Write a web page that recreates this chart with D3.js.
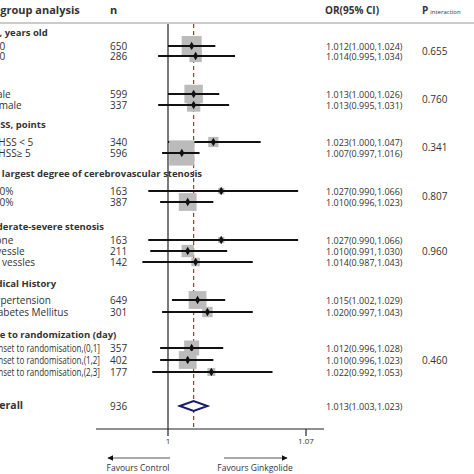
<!DOCTYPE html>
<html><head><meta charset="utf-8">
<script src="https://cdn.jsdelivr.net/npm/d3@7"></script>
<style>body{margin:0;background:#fff}svg{font-family:"Open Sans",sans-serif}</style>
</head><body><svg id="c" width="474" height="474"></svg>
<script>
const groups = ["Age, years old","Sex","NIHSS, points","The largest degree of cerebrovascular stenosis","Moderate-severe stenosis","Medical History","Time to randomization (day)"];
const groupY = [33,null,125,174,227,284,335];
const labels = ["≥60","<60","Male","Female","NIHSS < 5","NIHSS≥ 5","≥50%","<50%","None","1 vessle","≥2 vessles","Hypertension","Diabetes Mellitus","Onset to randomisation,(0,1]","Onset to randomisation,(1,2]","Onset to randomisation,(2,3]"];
const rowY = [46,56,94,105,142,153,191,202,240,251,262,300,312,348,360,372];
const ns = [650,286,599,337,340,596,163,387,163,211,142,649,301,357,402,177];
const or = [1.012,1.014,1.013,1.013,1.023,1.007,1.027,1.010,1.027,1.010,1.014,1.015,1.020,1.012,1.010,1.022];
const lo = [1.000,0.995,1.000,0.995,1.000,0.997,0.990,0.996,0.990,0.991,0.987,1.002,0.997,0.996,0.996,0.992];
const hi = [1.024,1.034,1.026,1.031,1.047,1.016,1.066,1.023,1.066,1.030,1.043,1.029,1.043,1.028,1.023,1.053];
const pvals = ["0.655","0.760","0.341","0.807","0.960","","0.460"];
const pY = [51,99,147,196,251,null,360];
const overall = {n:936, or:1.013, lo:1.003, hi:1.023, y:406};
const ticks = [1,1.07];

const svg = d3.select("#c");
const x = d3.scaleLinear().domain([1,1.07]).range([168,306]);
const txt = "#333";
svg.append("line").attr("x1",0).attr("x2",474).attr("y1",23).attr("y2",23).attr("stroke","#bbb").attr("stroke-width",1.5);
svg.append("text").attr("x",-20).attr("y",14).attr("font-size",11).attr("font-weight","bold").attr("fill",txt).text("Subgroup analysis");
svg.append("text").attr("x",110).attr("y",14).attr("font-size",11).attr("font-weight","bold").attr("fill",txt).text("n");
svg.append("text").attr("x",325).attr("y",14).attr("font-size",10).attr("font-weight","bold").attr("fill",txt).text("OR(95% CI)");
const ph = svg.append("text").attr("x",422).attr("y",14).attr("font-size",10).attr("font-weight","bold").attr("fill",txt);
ph.append("tspan").text("P");
ph.append("tspan").attr("font-size",6).attr("font-weight","normal").attr("dx",2).text("interaction");

groups.forEach((g,i)=>{ if(groupY[i]!=null) svg.append("text").attr("x",-18).attr("y",groupY[i]+3).attr("font-size",9.5).attr("font-weight","bold").attr("fill",txt).text(g);});
svg.append("line").attr("x1",x(overall.or)).attr("x2",x(overall.or)).attr("y1",24).attr("y2",429).attr("stroke","#a33").attr("stroke-dasharray","4,3").attr("stroke-width",1.2);
svg.append("line").attr("x1",x(1)).attr("x2",x(1)).attr("y1",24).attr("y2",429).attr("stroke","#222").attr("stroke-width",1.2);

labels.forEach((l,i)=>{
  const y=rowY[i];
  const t = svg.append("text").attr("x",-12).attr("y",y+3.5).attr("font-size",10).attr("fill",txt).text(l);
  if (l.startsWith("Onset")) t.attr("x",-8).attr("textLength",108).attr("lengthAdjust","spacingAndGlyphs");
  svg.append("text").attr("x",110).attr("y",y+3.5).attr("font-size",10).attr("fill",txt).text(ns[i]);
  svg.append("text").attr("x",326).attr("y",y+3.5).attr("font-size",9).attr("fill",txt).text(`${or[i].toFixed(3)}(${lo[i].toFixed(3)},${hi[i].toFixed(3)})`);
  const s = Math.min(26,0.48/(hi[i]-lo[i]));
  svg.append("rect").attr("x",x(or[i])-s/2).attr("y",y-s/2).attr("width",s).attr("height",s).attr("fill","#bbb");
  svg.append("line").attr("x1",x(lo[i])).attr("x2",x(hi[i])).attr("y1",y).attr("y2",y).attr("stroke","#111").attr("stroke-width",1.8);
  svg.append("path").attr("d",d3.symbol(d3.symbolDiamond,22)()).attr("transform",`translate(${x(or[i])},${y})`).attr("fill","#111");
});
pvals.forEach((p,i)=>{ if(p) svg.append("text").attr("x",422).attr("y",pY[i]+3.5).attr("font-size",10).attr("fill",txt).text(p);});

const oy=overall.y, cx=x(overall.or), hw=(x(overall.hi)-x(overall.lo))/4+4;
svg.append("text").attr("x",-15).attr("y",oy+3).attr("font-size",10.5).attr("font-weight","bold").attr("fill",txt).text("Overall");
svg.append("text").attr("x",110).attr("y",oy+3.5).attr("font-size",10).attr("fill",txt).text(overall.n);
svg.append("text").attr("x",326).attr("y",oy+3.5).attr("font-size",9).attr("fill",txt).text(`${overall.or.toFixed(3)}(${overall.lo.toFixed(3)},${overall.hi.toFixed(3)})`);
svg.append("path").attr("d",`M${cx-hw},${oy}L${cx},${oy-5}L${cx+hw},${oy}L${cx},${oy+5}Z`).attr("fill","#fff").attr("stroke","#1b1b6b").attr("stroke-width",2);

svg.append("line").attr("x1",96).attr("x2",324).attr("y1",429).attr("y2",429).attr("stroke","#222").attr("stroke-width",1.2);
ticks.forEach(t=>{
  svg.append("line").attr("x1",x(t)).attr("x2",x(t)).attr("y1",429).attr("y2",436).attr("stroke","#222").attr("stroke-width",1.2);
  svg.append("text").attr("x",x(t)).attr("y",444).attr("text-anchor","middle").attr("font-size",8).attr("fill",txt).text(t);
});
svg.append("defs").append("marker").attr("id","ah").attr("viewBox","0 0 10 10").attr("refX",9).attr("refY",5).attr("markerWidth",6).attr("markerHeight",6).attr("orient","auto").append("path").attr("d","M0,0L10,5L0,10Z").attr("fill","#111");
svg.append("line").attr("x1",170).attr("x2",108).attr("y1",458).attr("y2",458).attr("stroke","#555").attr("marker-end","url(#ah)");
svg.append("line").attr("x1",224).attr("x2",287).attr("y1",458).attr("y2",458).attr("stroke","#555").attr("marker-end","url(#ah)");
svg.append("text").attr("x",138).attr("y",471).attr("text-anchor","middle").attr("font-size",8.5).attr("fill",txt).text("Favours Control");
svg.append("text").attr("x",255).attr("y",471).attr("text-anchor","middle").attr("font-size",8.5).attr("fill",txt).text("Favours Ginkgolide");
</script></body></html>
